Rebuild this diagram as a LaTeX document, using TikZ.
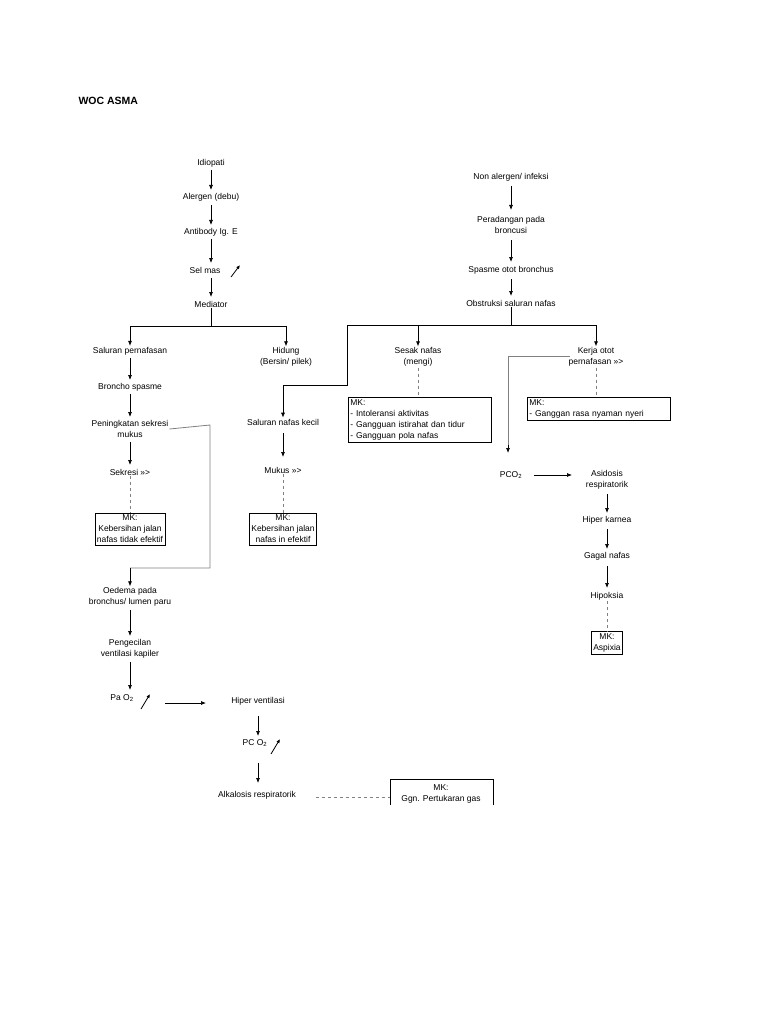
\documentclass[tikz,border=0pt]{standalone}
\usepackage{fontspec}
\setmainfont{Liberation Sans}
\usetikzlibrary{arrows.meta}
\begin{document}
\begin{tikzpicture}[x=1pt,y=-1pt,
  t/.style={inner sep=1pt,font=\fontsize{8.5}{11}\selectfont,align=center},
  mk/.style={draw,line width=0.8pt,inner sep=2pt,font=\fontsize{8.5}{11}\selectfont},
  ar/.style={-{Latex[length=5pt,width=4pt]},line width=0.7pt},
  ln/.style={line width=0.7pt},
  gr/.style={line width=0.8pt,draw=gray},
  dsh/.style={dashed,gray,line width=0.6pt},
  up/.style={-{Latex[length=4pt,width=3.5pt]},line width=0.8pt}]
\fill[white] (0,0) rectangle (768,1024);
\node[anchor=west,font=\bfseries\fontsize{10.5}{12}\selectfont] (title) at (75,101) {WOC ASMA};
% left column
\node[t] (idio) at (211,163) {Idiopati};
\node[t] (aler) at (211,197) {Alergen (debu)};
\node[t] (anti) at (211,232) {Antibody Ig. E};
\node[t] (sel) at (205,270) {Sel mas};
\coordinate (su1) at (231,277); \coordinate (su2) at (240,265);
\node[t] (med) at (211,304) {Mediator};
\draw[ar] (211,170) -- (211,190);
\draw[ar] (211,205) -- (211,225);
\draw[ar] (211,239) -- (211,263);
\draw[up] (su1) -- (su2);
\draw[ar] (211,278) -- (211,297);
\coordinate (mb) at (211,326);
\node[t] (salp) at (130,351) {Saluran pernafasan};
\node[t] (hid) at (286,357) {Hidung\\(Bersin/ pilek)};
\draw[ln] (med.south) -- (mb);
\draw[ar] (mb) -| (salp.north);
\draw[ar] (mb) -| (hid.north);
\node[t] (bron) at (130,387) {Broncho spasme};
\node[t] (pen) at (130,429) {Peningkatan sekresi\\mukus};
\node[t] (sek) at (130,472) {Sekresi >>>};
\node[mk,align=center] (mk1) at (130,529) {MK:\\Kebersihan jalan\\nafas tidak efektif};
\draw[ar] (130,358) -- (130,380);
\draw[ar] (130,394) -- (130,417);
\draw[ar] (130,442) -- (130,465);
\draw[dsh] (sek.south) -- (mk1.north);
\coordinate (g1) at (210,425); \coordinate (g2) at (210,568); \coordinate (g3) at (130,568);
\node[t] (oed) at (130,597) {Oedema pada\\bronchus/ lumen paru};
\draw[gr] (pen.east) -- (g1) -- (g2) -- (g3);
\draw[ar] (g3) -- (oed.north);
\node[t] (peng) at (130,649) {Pengecilan\\ventilasi kapiler};
\draw[ar] (130,610) -- (130,636);
\node[t] (pao) at (122,698) {Pa O\textsubscript{2}};
\draw[ar] (130,662) -- (130,690);
\draw[up] (141,709) -- (150,694);
\node[t] (hv) at (258,701) {Hiper ventilasi};
\draw[ar] (165,703) -- (206,703);
\node[t] (pco) at (255,743) {PC O\textsubscript{2}};
\draw[up] (271,754) -- (280,739);
\draw[ar] (258,716) -- (258,736);
\node[t] (alk) at (257,795) {Alkalosis respiratorik};
\draw[ar] (258,763) -- (258,783);
\node[t,align=center] (mk6) at (441,794) {MK:\\Ggn. Pertukaran gas};
\draw[line width=0.8pt] (390,805) -- (390,779) -- (493,779) -- (493,805);
\draw[dsh] (316,797) -- (390,797);
% middle
\node[t] (snk) at (283,422) {Saluran nafas kecil};
\node[t] (muk) at (283,470) {Mukus >>>};
\node[mk,align=center] (mk2) at (283,529) {MK:\\Kebersihan jalan\\nafas in efektif};
\draw[ar] (283,433) -- (283,457);
\draw[dsh] (muk.south) -- (mk2.north);
% right
\node[t] (non) at (511,177) {Non alergen/ infeksi};
\node[t] (per) at (511,225) {Peradangan pada\\broncusi};
\node[t] (spa) at (511,270) {Spasme otot bronchus};
\node[t] (obs) at (511,303) {Obstruksi saluran nafas};
\draw[ar] (511,186) -- (511,210);
\draw[ar] (511,240) -- (511,262);
\draw[ar] (511,279) -- (511,296);
\coordinate (ob) at (511,325); \coordinate (ol) at (347,325);
\coordinate (ol2) at (347,385); \coordinate (ol3) at (283,385);
\node[t] (ses) at (418,357) {Sesak nafas\\(mengi)};
\node[t] (ker) at (596,357) {Kerja otot\\pernafasan >>>};
\draw[ln] (obs.south) -- (ob);
\draw[ar] (ob) -| (ses.north);
\draw[ar] (ob) -| (ker.north);
\draw[ln] (ob) -- (ol) -- (ol2) -- (ol3);
\draw[ar] (ol3) -- (snk.north);
\node[mk,anchor=north west,align=left,text width=139pt] (mk3) at (348,397) {MK:\\- Intoleransi aktivitas\\- Gangguan istirahat dan tidur\\- Gangguan pola nafas};
\draw[dsh] (ses.south) -- (418,397);
\node[mk,anchor=north west,align=left,text width=139pt] (mk4) at (527,397) {MK:\\- Ganggan rasa nyaman nyeri};
\draw[dsh] (ker.south) -- (596,397);
\node[t] (pc2) at (511,475) {PCO\textsubscript{2}};
\coordinate (k1) at (570,356); \coordinate (k2) at (508,356);
\draw[gr] (k1) -- (k2) -- (508,448);
\draw[ar] (508,445) -- (508,453);
\node[t] (asi) at (607,480) {Asidosis\\respiratorik};
\draw[ar] (534,475) -- (572,475);
\node[t] (hk) at (607,520) {Hiper karnea};
\node[t] (gag) at (607,556) {Gagal nafas};
\node[t] (hip) at (607,596) {Hipoksia};
\draw[ar] (607,494) -- (607,513);
\draw[ar] (607,529) -- (607,549);
\draw[ar] (607,566) -- (607,588);
\node[mk,align=center] (mk5) at (607,643) {MK:\\Aspixia};
\draw[dsh] (hip.south) -- (mk5.north);
\end{tikzpicture}
\end{document}
